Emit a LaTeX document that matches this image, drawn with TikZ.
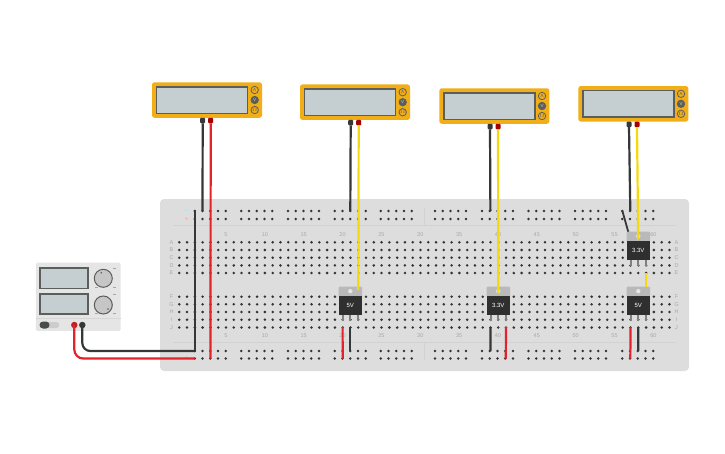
\documentclass[tikz,border=0pt]{standalone}
\usepackage{fontspec}
\setmainfont{Liberation Sans}
\usetikzlibrary{calc, positioning}

\definecolor{boardgrey}{HTML}{DDDDDD}
\definecolor{boardline}{HTML}{D2D2D2}
\definecolor{holedark}{HTML}{333333}
\definecolor{labelgrey}{HTML}{A8A8A8}
\definecolor{meterorange}{HTML}{F2AE17}
\definecolor{screenfill}{HTML}{C5CFD1}
\definecolor{framedark}{HTML}{5A5F5C}
\definecolor{wireblack}{HTML}{343838}
\definecolor{wirered}{HTML}{E3232B}
\definecolor{wireyellow}{HTML}{F6D80C}
\definecolor{regbody}{HTML}{2F2F2F}
\definecolor{regtab}{HTML}{B9B9B9}

\begin{document}
\begin{tikzpicture}[%
    x=1pt, y=-1pt,
    every node/.style={inner sep=0pt, outer sep=0pt},
    board/.style={fill=boardgrey, rounded corners=4pt, minimum width=529pt, minimum height=172pt},
    rowlabel/.style={text=labelgrey, font=\fontsize{5.5}{5.5}\selectfont},
    meter/.style={fill=meterorange, rounded corners=2.5pt, minimum width=110pt, minimum height=35.5pt},
    screen/.style={draw=framedark, line width=1.5pt, fill=screenfill},
    dial/.style={draw=framedark, line width=0.8pt, circle, minimum size=7.4pt, text=framedark, font=\fontsize{4.5}{4.5}\selectfont},
    dialon/.style={dial, fill=framedark, text=screenfill},
    plugblack/.style={fill=wireblack, rounded corners=1pt, minimum width=5pt, minimum height=5.5pt},
    plugred/.style={fill=red!65!black, rounded corners=1pt, minimum width=5pt, minimum height=5.5pt},
    wire/.style={line width=2.2pt},
    blackwire/.style={wire, draw=wireblack},
    redwire/.style={wire, draw=wirered},
    yellowwire/.style={wire, draw=wireyellow},
    tab/.style={fill=regtab, rounded corners=1pt, minimum width=23.4pt},
    body/.style={fill=regbody, minimum width=23.4pt, text=white, font=\fontsize{6}{6}\selectfont},
    pin/.style={fill=gray, minimum width=1.8pt, minimum height=6pt},
    psmark/.style={draw=gray!70, line width=0.7pt},
    ]

\useasboundingbox (0,0) rectangle (725,453);

%==================================================
% Breadboard
%==================================================
\node[board] (bb) at (424.5,285) {};
\draw[boardline] (173,225) -- (676,225);
\draw[boardline] (173,342) -- (676,342);
\draw[boardline] (424,208) -- (424,225);
\draw[boardline] (424,342) -- (424,360);

% Main holes
\foreach \y in {242.3,250,257.7,265.4,273,296.7,304.3,312,319.7,327.5}
  \foreach \i in {0,...,63}
    \fill[holedark] (179.3+\i*7.78,\y) circle (1.4);

% Rail holes
\foreach \y in {211,219,351,358.5}
  \foreach \s in {194.7,241.3,288,334.7,380.7,435,482,528.5,575,622.3}
    \foreach \i in {0,...,4}
      \fill[holedark] (\s+\i*7.75,\y) circle (1.4);

% Labels
\foreach \n in {5,10,...,60} {
  \node[rowlabel] (top\n) at (226+\n*7.77-5*7.77,235) {\n};
  \node[rowlabel] (bot\n) at (226+\n*7.77-5*7.77,336) {\n};
}
\foreach \t/\y in {A/242.3,B/250,C/257.7,D/265.4,E/273,F/296.7,G/304.3,H/312,I/319.7,J/327.5} {
  \node[rowlabel] (l\t) at (171.5,\y) {\t};
  \node[rowlabel] (r\t) at (676.5,\y) {\t};
}
\node[text=cyan!40!white, font=\fontsize{7}{7}\selectfont] (minustop) at (186.7,211) {--};
\node[text=red!35!white, font=\fontsize{7}{7}\selectfont] (plustop) at (186.7,219) {+};
\node[text=red!35!white, font=\fontsize{7}{7}\selectfont] (plusbot) at (186.7,358.5) {+};

%==================================================
% Power supply
%==================================================
\node[fill=gray!20, rounded corners=1.5pt, minimum width=84.7pt, minimum height=68.3pt] (psu) at (78.3,296.8) {};
\node[screen, line width=1.7pt, minimum width=48pt, minimum height=20.5pt] (psa) at (64.2,278.3) {};
\node[screen, line width=1.7pt, minimum width=48pt, minimum height=20pt] (psb) at (64.2,304) {};
\node[draw=framedark, line width=1pt, fill=gray!45, circle, minimum size=18pt] (knoba) at (103.3,278.3) {};
\node[draw=framedark, line width=1pt, fill=gray!45, circle, minimum size=18pt] (knobb) at (103.3,305) {};
\fill[framedark] (101.3,272.7) circle (0.9);
\fill[framedark] (108,309) circle (0.9);
\foreach \x/\y in {113/268,95/287,113/287,113/294,95/313,113/313}
  \draw[psmark] (\x,\y) -- ++(3,0);
\draw[gray!32] (36,318) -- (120.7,318);
\node[fill=gray!40, rounded corners=3pt, minimum width=18pt, minimum height=6pt] (swbase) at (50.3,325) {};
\node[fill=framedark!80!black, rounded corners=3.5pt, minimum width=10pt, minimum height=7pt] (swknob) at (44.5,325) {};
\node[fill=wirered!85!black, circle, minimum size=6.5pt] (pspos) at (74.3,325) {};
\node[fill=wireblack, circle, minimum size=6.5pt] (psneg) at (82.3,325) {};

%==================================================
% Connectors under the regulators
%==================================================
\coordinate (slanta) at (622.3,210.7);
\coordinate (slantb) at (630,238);
\draw[blackwire, line width=1.8pt] (slanta) -- (slantb);

%==================================================
% Regulators
%==================================================
\foreach \name/\x/\y/\t in {rega/350.3/286.7/5V, regb/498.3/286.7/3.3V, regc/638.3/231.7/3.3V, regd/638.3/286.7/5V} {
  \node[pin] (\name pa) at (\x-7.7,\y+31.5) {};
  \node[pin] (\name pb) at (\x,\y+31.5) {};
  \node[pin] (\name pc) at (\x+7.7,\y+31.5) {};
  \node[tab, minimum height=10pt] (\name tab) at (\x,\y+5) {};
  \node[body, minimum height=19pt] (\name) at (\x,\y+19) {\t};
  \fill[gray!20] (\x,\y+4.5) circle (2.2);
}

%==================================================
% Multimeters
%==================================================
\foreach \name/\x/\y in {ma/207/100, mb/355/102.2, mc/494.3/106, md/633.3/103.8} {
  \node[meter] (\name) at (\x,\y) {};
  \node[screen, minimum width=91pt, minimum height=26.5pt] (\name s) at (\x-5,\y) {};
  \node[dial] (\name a) at (\x+47.7,\y-10) {A};
  \node[dialon] (\name v) at (\x+47.7,\y) {V};
  \node[dial] (\name r) at (\x+47.7,\y+10) {$\Omega$};
  \node[plugblack] (\name n) at (\x-4.3,\y+20.5) {};
  \node[plugred] (\name p) at (\x+3.7,\y+20.5) {};
}

%==================================================
% Wire ends
%==================================================
\coordinate (ena) at (202.5,211);
\coordinate (epa) at (210.5,358.5);
\coordinate (enb) at (350.3,211);
\coordinate (epb) at (358.3,290);
\coordinate (enc) at (490.4,211);
\coordinate (epc) at (498.3,293);
\coordinate (end) at (630.3,211);
\coordinate (epd) at (638.2,239.5);
\coordinate (railn) at (195,351);
\coordinate (railntop) at (195,211);
\coordinate (railp) at (195,358.5);

%==================================================
% Arrows
%==================================================
% Multimeters
\draw[blackwire] (man.south) -- (ena);
\draw[redwire] (map.south) -- (epa);
\draw[blackwire] (mbn.south) -- (enb);
\draw[yellowwire] (mbp.south) -- (epb);
\draw[blackwire] (mcn.south) -- (enc);
\draw[yellowwire] (mcp.south) -- (epc);
\draw[blackwire] (mdn.south) -- (end);
\draw[yellowwire] (mdp.south) -- (epd);

% Power supply
\draw[blackwire, line cap=rect] (railntop) -- (railn);
\draw[blackwire, rounded corners=8pt] (psneg.center) |- (railn);
\draw[redwire, rounded corners=9pt] (pspos.center) |- (railp);

% Regulators
\coordinate (ga) at (342.7,358.5);
\coordinate (gb) at (350.3,351);
\coordinate (gc) at (490.4,351);
\coordinate (gd) at (505.8,358.5);
\coordinate (ge) at (630.3,358.5);
\coordinate (gf) at (638.2,351);
\coordinate (ya) at (646,272.7);
\draw[redwire] (regapa.south) ++(0,6) -- (ga);
\draw[blackwire] (regapb.south) ++(0,6) -- (gb);
\draw[blackwire] (regbpa.south) ++(0,6) -- (gc);
\draw[redwire] (regbpc.south) ++(0,6) -- (gd);
\draw[redwire] (regdpa.south) ++(0,6) -- (ge);
\draw[blackwire] (regdpb.south) ++(0,6) -- (gf);
\draw[yellowwire] (ya) -- (regdtab.north -| ya);

%==================================================
\end{tikzpicture}
\end{document}
